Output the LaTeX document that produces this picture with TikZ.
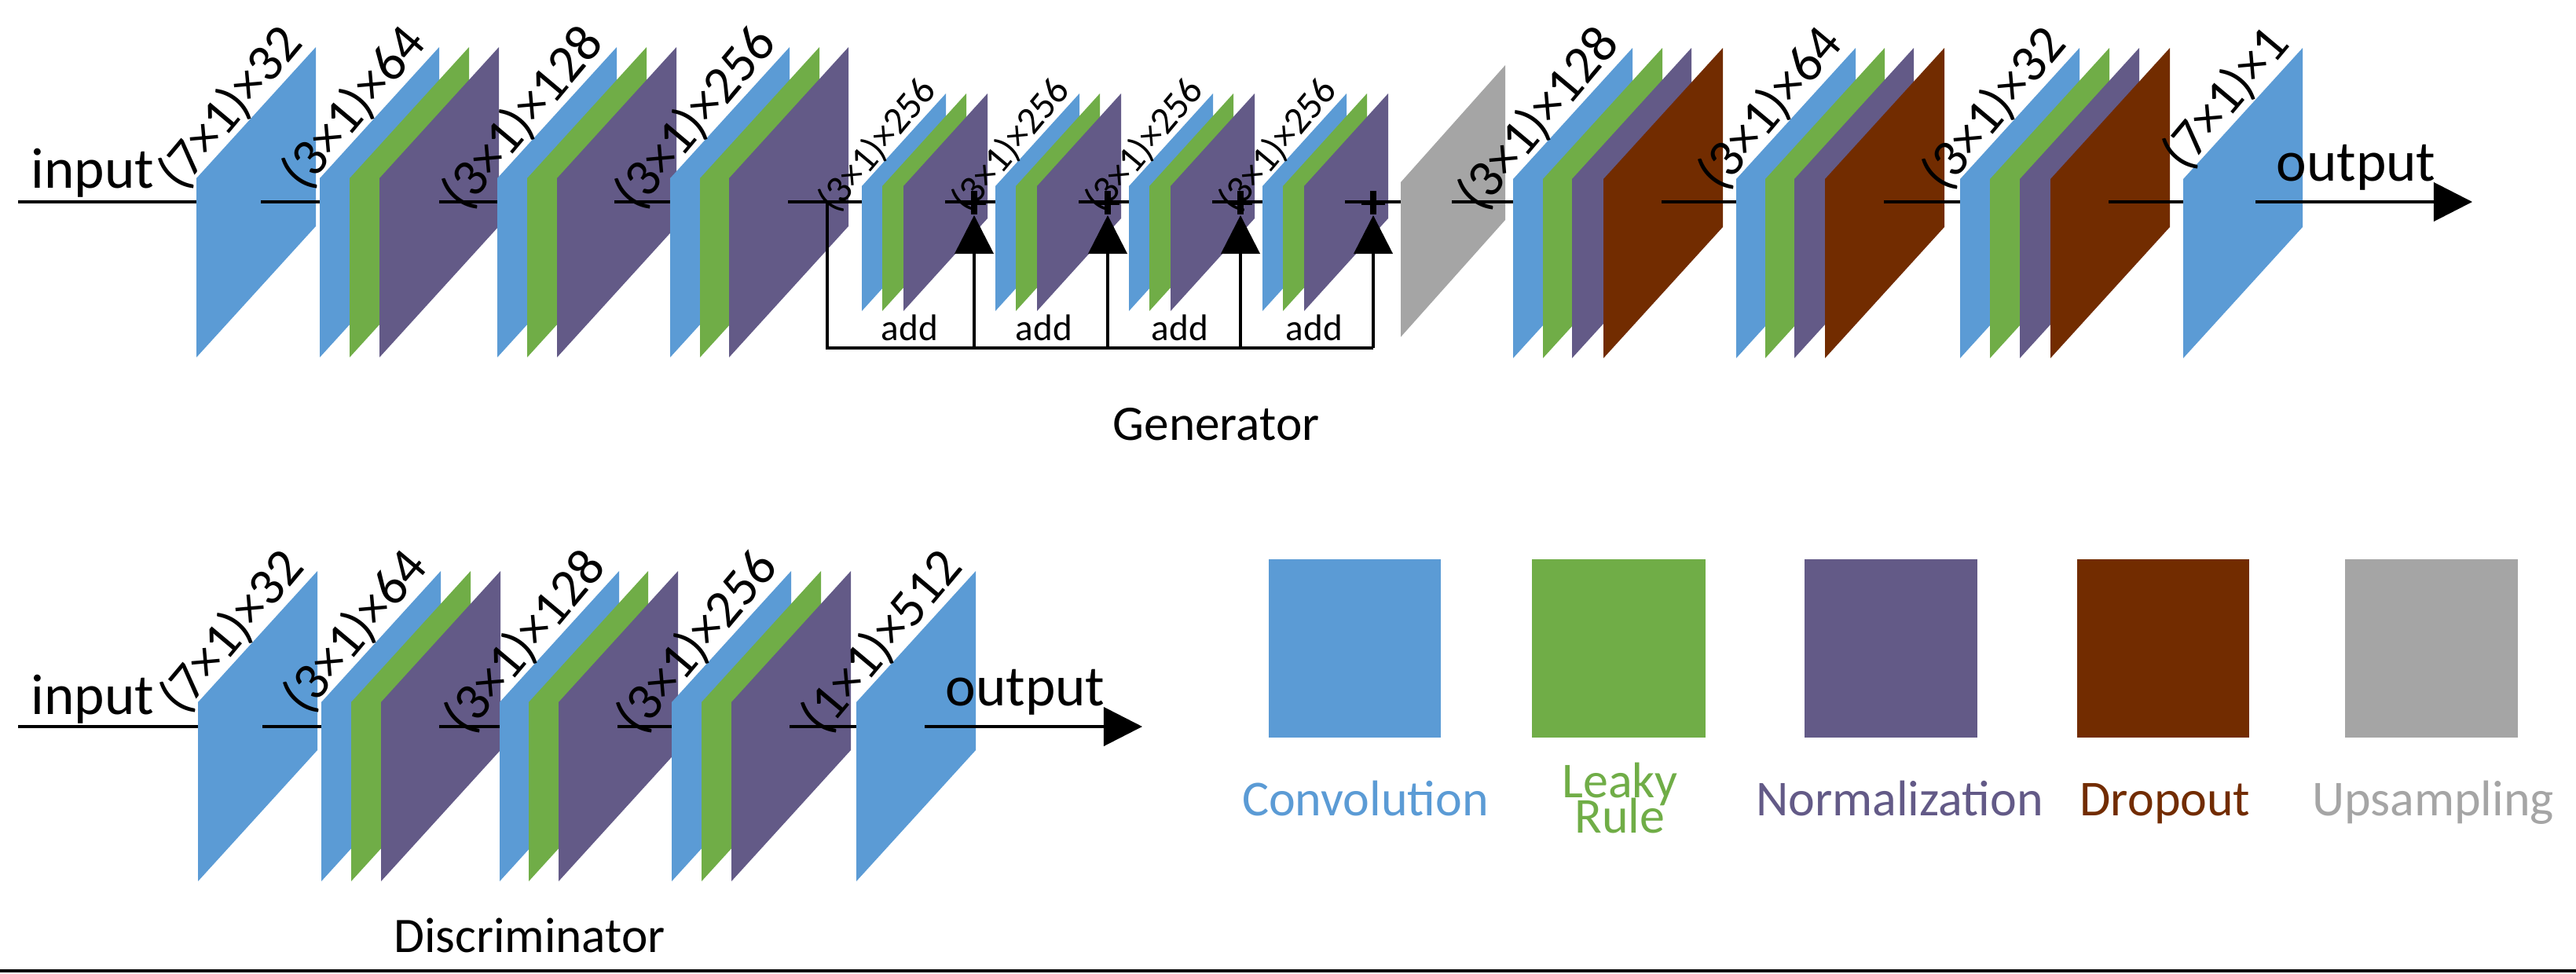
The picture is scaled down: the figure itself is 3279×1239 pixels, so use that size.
\documentclass[tikz,border=0pt]{standalone}
\usepackage{fontspec}
\setmainfont{Carlito}
\usetikzlibrary{arrows.meta,calc}
\definecolor{cconv}{HTML}{5B9BD5}
\definecolor{cleaky}{HTML}{70AD47}
\definecolor{cnorm}{HTML}{635A87}
\definecolor{cdrop}{HTML}{722C00}
\definecolor{cup}{HTML}{A5A5A5}
% x, y(top-left), width, rise, height, colour
\newcommand{\plane}[6]{\fill[#6] (#1,#2) -- ++(#3,-#4) -- ++(0,#5) -- ++(-#3,#4) -- cycle;}
\newcommand{\bigp}[3]{\plane{#1}{#2}{152}{167}{228}{#3}}
\newcommand{\resp}[2]{\plane{#1}{237}{107}{118}{159}{#2}}
\begin{document}
\begin{tikzpicture}[x=0.01cm,y=-0.01cm,
  conn/.style={line width=1.1pt},
  arr/.style={conn,-{Triangle[length=14pt,width=14pt]}},
  lab/.style={font=\fontsize{19.2}{19.2}\selectfont,anchor=base east,rotate=50,inner sep=0pt},
  rlab/.style={font=\fontsize{14}{14}\selectfont,anchor=base east,rotate=50,inner sep=0pt},
  io/.style={font=\fontsize{20.8}{20.8}\selectfont,anchor=base,inner sep=0pt},
  ttl/.style={font=\fontsize{18}{18}\selectfont,anchor=base,inner sep=0pt},
  addl/.style={font=\fontsize{13.4}{13.4}\selectfont,anchor=base,inner sep=0pt},
  leg/.style={font=\fontsize{18.2}{18.2}\selectfont,anchor=base,inner sep=0pt},
  plusv/.style={line width=2.5pt},
  plush/.style={line width=1.9pt}]
\useasboundingbox (0,0) rectangle (3279,1239);

% ---------------- Generator: panels ----------------
\bigp{250}{227}{cconv}
\bigp{407}{227}{cconv}\bigp{445}{227}{cleaky}\bigp{483}{227}{cnorm}
\bigp{633}{227}{cconv}\bigp{671}{227}{cleaky}\bigp{709}{227}{cnorm}
\bigp{853}{227}{cconv}\bigp{891}{227}{cleaky}\bigp{928}{227}{cnorm}
\foreach \x in {1097,1267,1437,1607}{
  \resp{\x}{cconv}\resp{\x+26}{cleaky}\resp{\x+53}{cnorm}}
\plane{1783}{232}{133}{149}{197}{cup}
\bigp{1926}{228}{cconv}\bigp{1964}{228}{cleaky}\bigp{2001}{228}{cnorm}\bigp{2041}{228}{cdrop}
\bigp{2210}{228}{cconv}\bigp{2247}{228}{cleaky}\bigp{2284}{228}{cnorm}\bigp{2323}{228}{cdrop}
\bigp{2495}{228}{cconv}\bigp{2533}{228}{cleaky}\bigp{2571}{228}{cnorm}\bigp{2610}{228}{cdrop}
\bigp{2779}{228}{cconv}

% ---------------- Generator: connectors ----------------
\coordinate (gin) at (23,257);
\coordinate (g1l) at (250,257);  \coordinate (g1c) at (332,257);
\coordinate (g2l) at (407,257);  \coordinate (g2c) at (559,257);
\coordinate (g3l) at (633,257);  \coordinate (g3c) at (782,257);
\coordinate (g4l) at (853,257);  \coordinate (g4c) at (1003,257);
\coordinate (r1l) at (1097,257); \coordinate (r1c) at (1203,257);
\coordinate (r2l) at (1267,257); \coordinate (r2c) at (1373,257);
\coordinate (r3l) at (1437,257); \coordinate (r3c) at (1543,257);
\coordinate (r4l) at (1607,257); \coordinate (r4c) at (1712,257);
\coordinate (upl) at (1783,257); \coordinate (upc) at (1848,257);
\coordinate (d1l) at (1926,257); \coordinate (d1c) at (2115,257);
\coordinate (d2l) at (2210,257); \coordinate (d2c) at (2398,257);
\coordinate (d3l) at (2495,257); \coordinate (d3c) at (2684,257);
\coordinate (d4l) at (2779,257); \coordinate (d4c) at (2871,257);
\coordinate (gout) at (3147,257);
\draw[conn] (gin) -- (g1l);
\draw[conn] (g1c) -- (g2l);
\draw[conn] (g2c) -- (g3l);
\draw[conn] (g3c) -- (g4l);
\draw[conn] (g4c) -- (r1l);
\draw[conn] (r1c) -- (r2l);
\draw[conn] (r2c) -- (r3l);
\draw[conn] (r3c) -- (r4l);
\draw[conn] (r4c) -- (upl);
\draw[conn] (upc) -- (d1l);
\draw[conn] (d1c) -- (d2l);
\draw[conn] (d2c) -- (d3l);
\draw[conn] (d3c) -- (d4l);
\draw[arr] (d4c) -- (gout);

% skip connections
\coordinate (s0) at (1053,257);
\coordinate (b1) at (1240,443); \coordinate (t1) at (1240,274); \coordinate (p1) at (1240,258);
\coordinate (b2) at (1410,443); \coordinate (t2) at (1410,274); \coordinate (p2) at (1410,258);
\coordinate (b3) at (1579,443); \coordinate (t3) at (1579,274); \coordinate (p3) at (1579,258);
\coordinate (b4) at (1748,443); \coordinate (t4) at (1748,274); \coordinate (p4) at (1748,258);
\draw[conn] (s0) |- (b4);
\foreach \i in {1,2,3,4}{
  \draw[arr] (b\i) -- (t\i);
  \draw[plusv] ($(p\i)+(0,-15)$) -- ($(p\i)+(0,15)$);
  \draw[plush] ($(p\i)+(-15,0)$) -- ($(p\i)+(15,0)$);
}
\node[addl] (add1) at (1158,433) {add};
\node[addl] (add2) at (1329,433) {add};
\node[addl] (add3) at (1502,433) {add};
\node[addl] (add4) at (1673,433) {add};

% labels
\node[lab] (lg1) at (388,56) {(7×1)×32};
\node[lab] (lg2) at (545,56) {(3×1)×64};
\node[lab] (lg3) at (771,56) {(3×1)×128};
\node[lab] (lg4) at (991,56) {(3×1)×256};
\node[rlab] (lr1) at (1194,116) {(3×1)×256};
\node[rlab] (lr2) at (1364,116) {(3×1)×256};
\node[rlab] (lr3) at (1534,116) {(3×1)×256};
\node[rlab] (lr4) at (1704,116) {(3×1)×256};
\node[lab] (ld1) at (2064,57) {(3×1)×128};
\node[lab] (ld2) at (2348,57) {(3×1)×64};
\node[lab] (ld3) at (2633,57) {(3×1)×32};
\node[lab] (ld4) at (2917,57) {(7×1)×1};
\node[io] (ginlab) at (118,239) {input};
\node[io] (goutlab) at (2999,230) {output};
\node[ttl] (gen) at (1548,560) {Generator};

% ---------------- Discriminator ----------------
\bigp{252}{894}{cconv}
\bigp{409}{894}{cconv}\bigp{447}{894}{cleaky}\bigp{485}{894}{cnorm}
\bigp{636}{894}{cconv}\bigp{673}{894}{cleaky}\bigp{711}{894}{cnorm}
\bigp{855}{894}{cconv}\bigp{893}{894}{cleaky}\bigp{931}{894}{cnorm}
\bigp{1090}{894}{cconv}
\coordinate (din) at (23,925);
\coordinate (e1l) at (252,925);  \coordinate (e1c) at (334,925);
\coordinate (e2l) at (409,925);  \coordinate (e2c) at (559,925);
\coordinate (e3l) at (636,925);  \coordinate (e3c) at (786,925);
\coordinate (e4l) at (855,925);  \coordinate (e4c) at (1005,925);
\coordinate (e5l) at (1090,925); \coordinate (e5c) at (1177,925);
\coordinate (dout) at (1454,925);
\draw[conn] (din) -- (e1l);
\draw[conn] (e1c) -- (e2l);
\draw[conn] (e2c) -- (e3l);
\draw[conn] (e3c) -- (e4l);
\draw[conn] (e4c) -- (e5l);
\draw[arr] (e5c) -- (dout);
\node[lab] (le1) at (390,723) {(7×1)×32};
\node[lab] (le2) at (547,723) {(3×1)×64};
\node[lab] (le3) at (774,723) {(3×1)×128};
\node[lab] (le4) at (993,723) {(3×1)×256};
\node[lab] (le5) at (1228,723) {(1×1)×512};
\node[io] (dinlab) at (118,909) {input};
\node[io] (doutlab) at (1305,898) {output};
\node[ttl] (disc) at (674,1212) {Discriminator};

% ---------------- Legend ----------------
\fill[cconv]  (1615,712) rectangle (1834,939);
\fill[cleaky] (1950,712) rectangle (2171,939);
\fill[cnorm]  (2297,712) rectangle (2517,939);
\fill[cdrop]  (2644,712) rectangle (2863,939);
\fill[cup]    (2985,712) rectangle (3205,939);
\node[leg,text=cconv] (lconv) at (1738,1038) {Convolution};
\node[leg,text=cleaky] (lleaky) at (2062,1015) {Leaky};
\node[leg,text=cleaky] (lrule) at (2062,1060) {Rule};
\node[leg,text=cnorm] (lnorm) at (2418,1038) {Normalization};
\node[leg,text=cdrop] (ldrop) at (2756,1038) {Dropout};
\node[leg,text=cup] (lup) at (3097,1038) {Upsampling};

% bottom rule
\coordinate (bl) at (0,1236);
\coordinate (br) at (3279,1236);
\draw[line width=1.14pt] (bl) -- (br);
\end{tikzpicture}
\end{document}
